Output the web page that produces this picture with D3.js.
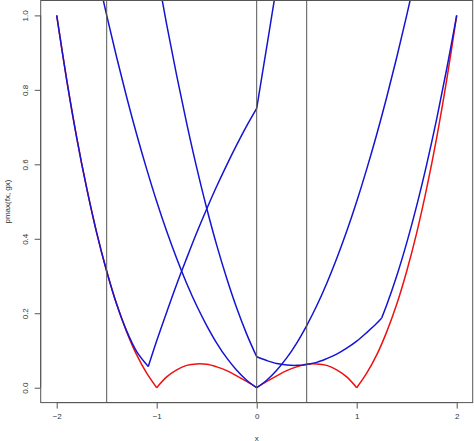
<!DOCTYPE html>
<html>
<head>
<meta charset="utf-8">
<script src="https://cdn.jsdelivr.net/npm/d3@7"></script>
<style>
  body { margin: 0; background: #fff; }
  text { font-family: "Liberation Sans", Arial, sans-serif; }
</style>
</head>
<body>
<svg id="chart"></svg>
<script>
// tick values
const xTicks = [-2, -1, 0, 1, 2];
const yTicks = [0, 0.2, 0.4, 0.6, 0.8, 1.0];
const vLines = [-1.5, 0, 0.5];

// red curve pmax(fx, gx), sampled every 0.1 from -2 to 2
const redX = [-2, -1.9, -1.8, -1.7, -1.6, -1.5, -1.4, -1.3, -1.2, -1.1, -1,
  -0.9, -0.8, -0.7, -0.6, -0.5, -0.4, -0.3, -0.2, -0.1, 0,
  0.1, 0.2, 0.3, 0.4, 0.5, 0.6, 0.7, 0.8, 0.9, 1,
  1.1, 1.2, 1.3, 1.4, 1.5, 1.6, 1.7, 1.8, 1.9, 2];
const redY = [1.0, 0.827, 0.672, 0.536, 0.416, 0.313, 0.224, 0.150, 0.088, 0.039, 0,
  0.029, 0.048, 0.060, 0.064, 0.063, 0.056, 0.046, 0.032, 0.017, 0,
  0.017, 0.032, 0.046, 0.056, 0.063, 0.064, 0.060, 0.048, 0.029, 0,
  0.039, 0.088, 0.150, 0.224, 0.313, 0.416, 0.536, 0.672, 0.827, 1.0];
const redKinks = [-1, 0, 1];

// blue curves, each split where it bends sharply
const blueA1 = [[-2, 1.0], [-1.9, 0.827], [-1.8, 0.672], [-1.7, 0.536], [-1.6, 0.416],
  [-1.5, 0.313], [-1.4, 0.224], [-1.3, 0.152], [-1.2, 0.097], [-1.084, 0.057]];
const blueA2 = [[-1.084, 0.057], [-1.0, 0.126], [-0.9, 0.203], [-0.8, 0.278], [-0.7, 0.348],
  [-0.6, 0.416], [-0.5, 0.480], [-0.4, 0.541], [-0.3, 0.598], [-0.2, 0.652],
  [-0.1, 0.703], [0, 0.75]];
const blueA3 = [[0, 0.75], [0.05, 0.833], [0.1, 0.915], [0.15, 0.998], [0.2, 1.08]];

const blueB1 = [[-1.6, 1.12], [-1.5, 1.0], [-1.4, 0.887], [-1.3, 0.78], [-1.2, 0.68],
  [-1.1, 0.587], [-1.0, 0.5], [-0.9, 0.42], [-0.8, 0.347], [-0.7, 0.28], [-0.6, 0.22],
  [-0.5, 0.167], [-0.4, 0.12], [-0.3, 0.08], [-0.2, 0.047], [-0.1, 0.02], [0, 0]];
const blueB2 = [[0, 0], [0.1, 0.02], [0.2, 0.047], [0.3, 0.08], [0.4, 0.12], [0.5, 0.167],
  [0.6, 0.22], [0.7, 0.28], [0.8, 0.347], [0.9, 0.42], [1.0, 0.5], [1.1, 0.587],
  [1.2, 0.68], [1.3, 0.78], [1.4, 0.887], [1.5, 1.0], [1.6, 1.12]];

const blueC1 = [[-1.0, 1.123], [-0.9, 0.975], [-0.8, 0.838], [-0.7, 0.710], [-0.6, 0.591],
  [-0.5, 0.482], [-0.4, 0.383], [-0.3, 0.294], [-0.2, 0.214], [-0.1, 0.144], [0, 0.083]];
const blueC2 = [[0, 0.083], [0.1, 0.073], [0.2, 0.065], [0.3, 0.061], [0.4, 0.060],
  [0.5, 0.0625], [0.6, 0.068], [0.7, 0.078], [0.8, 0.090], [0.9, 0.106], [1.0, 0.125],
  [1.1, 0.148], [1.2, 0.173], [1.25, 0.1875]];
const blueC3 = [[1.25, 0.1875], [1.3, 0.222], [1.4, 0.300], [1.5, 0.389], [1.6, 0.489],
  [1.7, 0.600], [1.8, 0.722], [1.9, 0.856], [2.0, 1.0]];

const bluePieces = [blueA1, blueA2, blueA3, blueB1, blueB2, blueC1, blueC2, blueC3];

const width = 474;
const height = 441;
const box = { left: 40.7, right: 472.7, top: 0.5, bottom: 402.6 };

const svg = d3.select("#chart")
  .attr("width", width)
  .attr("height", height);

// R pads the data range by 4% on each side
const xScale = d3.scaleLinear()
  .domain([-2.16, 2.16])
  .range([box.left, box.right]);
const yScale = d3.scaleLinear()
  .domain([-0.04, 1.04])
  .range([box.bottom, box.top]);

svg.append("clipPath")
  .attr("id", "plotclip")
  .append("rect")
  .attr("x", box.left)
  .attr("y", box.top)
  .attr("width", box.right - box.left)
  .attr("height", box.bottom - box.top);

const plot = svg.append("g").attr("clip-path", "url(#plotclip)");

const line = d3.line()
  .x(d => xScale(d[0]))
  .y(d => yScale(d[1]))
  .curve(d3.curveCatmullRom.alpha(0.5));

// red curve, broken into smooth pieces at its zeros
const redPts = redX.map((x, i) => [x, redY[i]]);
const cuts = [-2, ...redKinks, 2];
const redPieces = [];
for (let k = 0; k < cuts.length - 1; k++) {
  redPieces.push(redPts.filter(p => p[0] >= cuts[k] - 1e-9 && p[0] <= cuts[k + 1] + 1e-9));
}

plot.selectAll("path.red")
  .data(redPieces)
  .join("path")
  .attr("class", "red")
  .attr("d", line)
  .attr("fill", "none")
  .attr("stroke", "#ee1111")
  .attr("stroke-width", 1.5);

plot.selectAll("path.blue")
  .data(bluePieces)
  .join("path")
  .attr("class", "blue")
  .attr("d", line)
  .attr("fill", "none")
  .attr("stroke", "#1414d2")
  .attr("stroke-width", 1.5)
  .attr("stroke-linejoin", "miter");

plot.selectAll("line.vline")
  .data(vLines)
  .join("line")
  .attr("class", "vline")
  .attr("x1", d => xScale(d))
  .attr("x2", d => xScale(d))
  .attr("y1", box.top)
  .attr("y2", box.bottom)
  .attr("stroke", "#555")
  .attr("stroke-width", 1);

// box
svg.append("rect")
  .attr("x", box.left)
  .attr("y", box.top)
  .attr("width", box.right - box.left)
  .attr("height", box.bottom - box.top)
  .attr("fill", "none")
  .attr("stroke", "#555")
  .attr("stroke-width", 1);

// x axis
const xAxis = svg.append("g")
  .attr("transform", `translate(0, ${box.bottom})`)
  .call(d3.axisBottom(xScale).tickValues(xTicks).tickSize(6).tickPadding(5).tickFormat(d3.format("d")));
xAxis.select(".domain")
  .attr("d", `M${xScale(-2)},0H${xScale(2)}`)
  .attr("stroke", "#555");
xAxis.selectAll(".tick line").attr("stroke", "#555");
xAxis.selectAll("text")
  .style("font-size", "8px")
  .style("font-family", "'Liberation Sans', Arial, sans-serif")
  .attr("fill", "#333");

// y axis, labels turned to run along the axis
const yAxis = svg.append("g")
  .attr("transform", `translate(${box.left}, 0)`)
  .call(d3.axisLeft(yScale).tickValues(yTicks).tickSize(6).tickFormat(d3.format(".1f")));
yAxis.select(".domain")
  .attr("d", `M0,${yScale(0)}V${yScale(1)}`)
  .attr("stroke", "#555");
yAxis.selectAll(".tick line").attr("stroke", "#555");
yAxis.selectAll("text")
  .attr("x", null)
  .attr("dy", null)
  .attr("transform", "translate(-15, 0) rotate(-90)")
  .attr("text-anchor", "middle")
  .attr("dominant-baseline", "central")
  .style("font-size", "8px")
  .style("font-family", "'Liberation Sans', Arial, sans-serif")
  .attr("fill", "#333");

svg.append("text")
  .attr("x", xScale(0))
  .attr("y", 438)
  .attr("text-anchor", "middle")
  .attr("dominant-baseline", "central")
  .style("font-size", "8px")
  .attr("fill", "#333")
  .text("x");

svg.append("text")
  .attr("transform", `translate(7, ${(box.top + box.bottom) / 2}) rotate(-90)`)
  .attr("text-anchor", "middle")
  .attr("dominant-baseline", "central")
  .style("font-size", "8px")
  .attr("fill", "#333")
  .text("pmax(fx, gx)");
</script>
</body>
</html>
